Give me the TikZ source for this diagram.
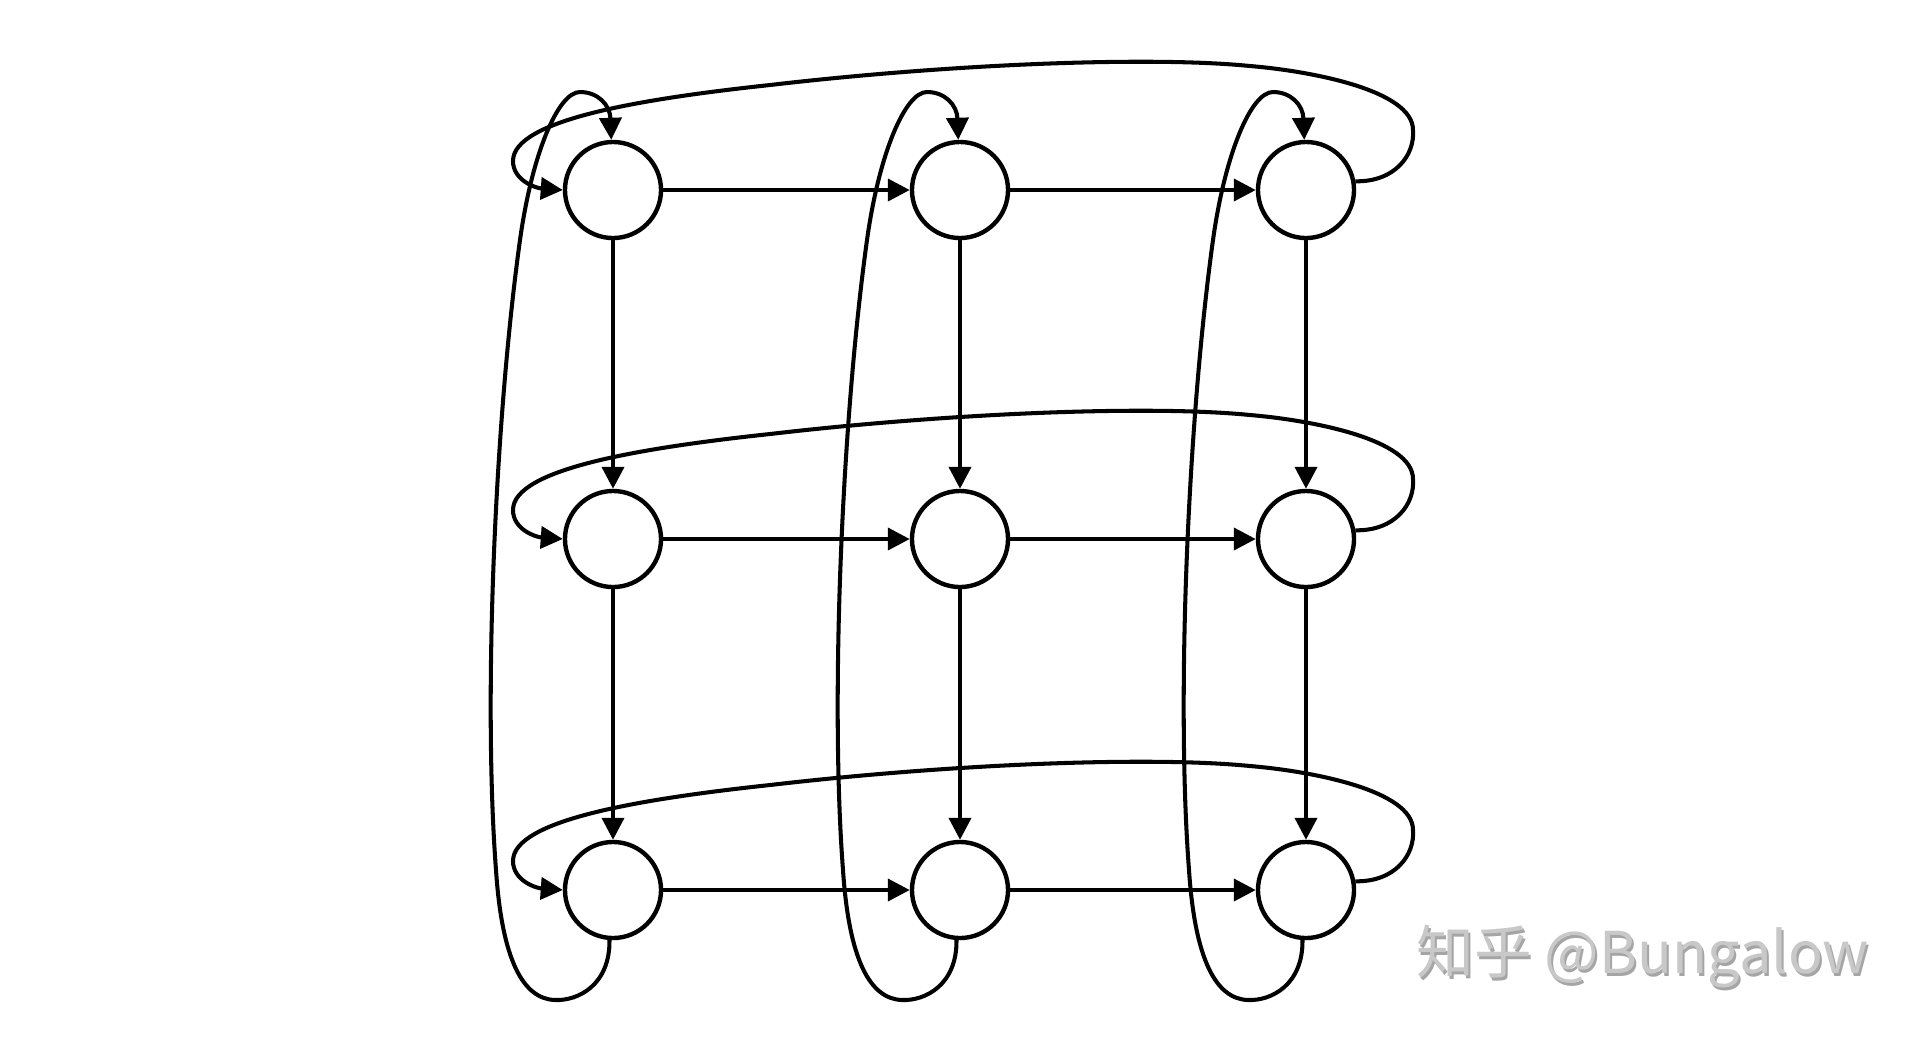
\documentclass[tikz,border=0pt]{standalone}
\usepackage{fontspec}
\newfontfamily\cjk{Noto Sans CJK SC}
\usepackage{tikz}
\usetikzlibrary{arrows.meta, positioning}
\definecolor{markgray}{RGB}{200, 200, 200}
\definecolor{markshade}{RGB}{165, 165, 165}

\begin{document}
\begin{tikzpicture}[
  x=0.01cm, y=-0.01cm,
  cnode/.style={draw, circle, line width=1.25pt, minimum size=0.96cm, inner sep=0pt},
  link/.style={-{Triangle[length=2.2mm, width=2.2mm]}, line width=1.15pt},
  wrap/.style={-{Triangle[length=2.2mm, width=2.2mm]}, line width=1.15pt}
]
  \useasboundingbox (0,0) rectangle (1911,1041);

  % 3x3 grid
  \node[cnode] (c11) at (613, 190) {};
  \node[cnode] (c12) at (960, 190) {};
  \node[cnode] (c13) at (1306, 190) {};
  \node[cnode] (c21) at (613, 539) {};
  \node[cnode] (c22) at (960, 539) {};
  \node[cnode] (c23) at (1306, 539) {};
  \node[cnode] (c31) at (613, 890) {};
  \node[cnode] (c32) at (960, 890) {};
  \node[cnode] (c33) at (1306, 890) {};

  % Rows → right
  \draw[link] (c11) -- (c12);
  \draw[link] (c12) -- (c13);
  \draw[link] (c21) -- (c22);
  \draw[link] (c22) -- (c23);
  \draw[link] (c31) -- (c32);
  \draw[link] (c32) -- (c33);

  % Columns → down
  \draw[link] (c11) -- (c21);
  \draw[link] (c21) -- (c31);
  \draw[link] (c12) -- (c22);
  \draw[link] (c22) -- (c32);
  \draw[link] (c13) -- (c23);
  \draw[link] (c23) -- (c33);

  % Row wrap-around: last back to first
  \draw[wrap] (c13.10) .. controls (1395,182) and (1415,155) .. (1413,130)
    .. controls (1413,90) and (1310,71) .. (1250,66)
    .. controls (1150,56) and (950,64) .. (770,85)
    .. controls (640,99) and (513,120) .. (513,161)
    .. controls (513,180) and (535,188) .. (c11.west);
  \draw[wrap] (c23.10) .. controls (1395,531) and (1415,504) .. (1413,479)
    .. controls (1413,439) and (1310,420) .. (1250,415)
    .. controls (1150,405) and (950,413) .. (770,434)
    .. controls (640,448) and (513,469) .. (513,510)
    .. controls (513,529) and (535,537) .. (c21.west);
  \draw[wrap] (c33.10) .. controls (1395,882) and (1415,855) .. (1413,830)
    .. controls (1413,790) and (1310,771) .. (1250,766)
    .. controls (1150,756) and (950,764) .. (770,785)
    .. controls (640,799) and (513,820) .. (513,861)
    .. controls (513,880) and (535,888) .. (c31.west);

  % Column wrap-around: bottom back to top
  \draw[wrap] (c31.266) .. controls (610,985) and (578,1001) .. (555,1000)
    .. controls (523,999) and (502,960) .. (496,870)
    .. controls (483,700) and (495,420) .. (520,240)
    .. controls (532,154) and (558,92) .. (580,92)
    .. controls (598,92) and (610,105) .. (c11.92);
  \draw[wrap] (c32.266) .. controls (957,985) and (925,1001) .. (902,1000)
    .. controls (870,999) and (849,960) .. (843,870)
    .. controls (830,700) and (842,420) .. (867,240)
    .. controls (879,154) and (905,92) .. (927,92)
    .. controls (945,92) and (957,105) .. (c12.92);
  \draw[wrap] (c33.266) .. controls (1303,985) and (1271,1001) .. (1248,1000)
    .. controls (1216,999) and (1195,960) .. (1189,870)
    .. controls (1176,700) and (1188,420) .. (1213,240)
    .. controls (1225,154) and (1251,92) .. (1273,92)
    .. controls (1291,92) and (1303,105) .. (c13.92);

  % Watermark
  \node[anchor=base west, markshade, font=\cjk\fontsize{16.4}{19}\selectfont, inner sep=0pt] (wmshade) at (1418, 976) {知乎 @Bungalow};
  \node[anchor=base west, markgray, font=\cjk\fontsize{16.4}{19}\selectfont, inner sep=0pt] (wm) at (1416, 973) {知乎 @Bungalow};
\end{tikzpicture}
\end{document}
